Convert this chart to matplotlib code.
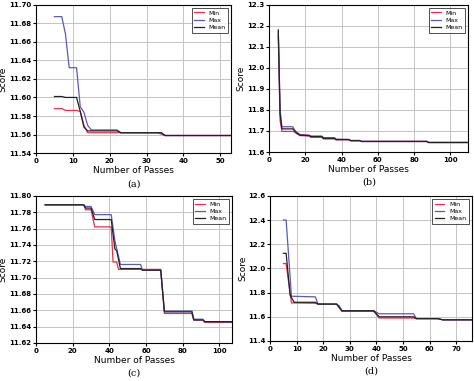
import numpy as np
import matplotlib.pyplot as plt

# Painel (a)
a_x_max = [5, 7, 8, 9, 11, 12, 13, 14, 15, 22, 23, 34, 35, 53]
a_max = [11.687, 11.687, 11.668, 11.632, 11.632, 11.590, 11.584, 11.570, 11.565, 11.565, 11.562, 11.562, 11.559, 11.559]
a_x_min = [5, 7, 8, 11, 12, 13, 14, 22, 23, 33, 35, 53]
a_min = [11.588, 11.588, 11.586, 11.586, 11.585, 11.570, 11.562, 11.562, 11.562, 11.562, 11.559, 11.559]
a_x_mean = [5, 7, 8, 11, 12, 13, 14, 22, 23, 33, 34, 35, 53]
a_mean = [11.601, 11.601, 11.600, 11.600, 11.585, 11.568, 11.564, 11.564, 11.562, 11.562, 11.562, 11.559, 11.559]

# Painel (b)
b_x = [5, 6, 7, 13, 14, 15, 17, 22, 23, 29, 30, 36, 37, 44, 45, 50, 51, 87, 88, 110]
b_max = [12.17, 11.80, 11.720, 11.720, 11.705, 11.695, 11.683, 11.680, 11.676, 11.676, 11.668, 11.668, 11.661, 11.660, 11.655, 11.655, 11.651, 11.651, 11.646, 11.646]
b_min = [12.15, 11.75, 11.698, 11.698, 11.695, 11.688, 11.678, 11.676, 11.670, 11.670, 11.662, 11.662, 11.658, 11.658, 11.653, 11.653, 11.650, 11.650, 11.645, 11.645]
b_mean = [12.18, 11.78, 11.710, 11.710, 11.700, 11.692, 11.680, 11.678, 11.673, 11.673, 11.665, 11.665, 11.659, 11.659, 11.654, 11.654, 11.650, 11.650, 11.645, 11.645]

# Painel (c)
c_x_max = [5, 26, 27, 30, 32, 41, 43, 44, 46, 57, 58, 68, 70, 85, 86, 91, 92, 100, 107]
c_max = [11.789, 11.789, 11.787, 11.787, 11.777, 11.777, 11.745, 11.735, 11.716, 11.716, 11.709, 11.709, 11.659, 11.659, 11.649, 11.649, 11.646, 11.646, 11.645]
c_x_min = [5, 26, 27, 30, 32, 41, 42, 44, 45, 68, 70, 85, 86, 91, 92, 107]
c_min = [11.789, 11.789, 11.783, 11.783, 11.762, 11.762, 11.719, 11.719, 11.710, 11.710, 11.656, 11.656, 11.648, 11.648, 11.645, 11.645]
c_x_mean = [5, 26, 27, 30, 32, 41, 43, 44, 46, 57, 58, 68, 70, 85, 86, 91, 92, 107]
c_mean = [11.789, 11.789, 11.785, 11.785, 11.771, 11.771, 11.735, 11.733, 11.711, 11.711, 11.709, 11.709, 11.658, 11.658, 11.648, 11.648, 11.646, 11.646]

# Painel (d)
d_x_max = [5, 6, 8, 17, 18, 25, 26, 27, 39, 41, 54, 55, 63, 65, 76]
d_max = [12.40, 12.40, 11.77, 11.765, 11.705, 11.705, 11.69, 11.65, 11.65, 11.625, 11.625, 11.585, 11.585, 11.575, 11.575]
d_x_min = [5, 6, 8, 17, 18, 25, 27, 39, 41, 54, 55, 63, 65, 76]
d_min = [12.04, 12.04, 11.715, 11.712, 11.705, 11.705, 11.645, 11.645, 11.59, 11.59, 11.585, 11.585, 11.575, 11.575]
d_x_mean = [5, 6, 7.5, 9, 17, 18, 25, 27, 39, 41, 54, 55, 63, 65, 76]
d_mean = [12.125, 12.125, 11.78, 11.72, 11.72, 11.705, 11.705, 11.65, 11.65, 11.60, 11.60, 11.585, 11.585, 11.575, 11.575]

cor_min = '#e8304c'
cor_max = '#5a5ab8'
cor_mean = '#222222'

fig = plt.figure(figsize=(4.74, 3.81), dpi=100)

paineis = [
    # (posição, dados, limites x, limites y, ticks y, formato, legenda, posição do Score)
    ([0.076, 0.598, 0.412, 0.39], (a_x_min, a_min, a_x_max, a_max, a_x_mean, a_mean), (0, 53), (11.54, 11.70), np.arange(11.54, 11.701, 0.02), '%.2f', '(a)', -0.145),
    ([0.568, 0.601, 0.420, 0.387], (b_x, b_min, b_x, b_max, b_x, b_mean), (0, 110), (11.6, 12.3), np.arange(11.6, 12.31, 0.1), '%.1f', '(b)', -0.12),
    ([0.076, 0.100, 0.414, 0.386], (c_x_min, c_min, c_x_max, c_max, c_x_mean, c_mean), (0, 107), (11.62, 11.80), np.arange(11.62, 11.801, 0.02), '%.2f', '(c)', -0.145),
    ([0.570, 0.105, 0.426, 0.381], (d_x_min, d_min, d_x_max, d_max, d_x_mean, d_mean), (0, 76), (11.4, 12.6), np.arange(11.4, 12.61, 0.2), '%.1f', '(d)', -0.115),
]

for pos, dados, xlim, ylim, yticks, fmt, rotulo, xscore in paineis:
    ax = fig.add_axes(pos)
    xmin, ymin, xmax, ymax, xmean, ymean = dados
    ax.plot(xmin, ymin, color=cor_min, lw=0.9, label='Min')
    ax.plot(xmax, ymax, color=cor_max, lw=0.9, label='Max')
    ax.plot(xmean, ymean, color=cor_mean, lw=0.9, label='Mean')
    ax.set_xlim(xlim)
    ax.set_ylim(ylim)
    ax.set_yticks(yticks)
    ax.yaxis.set_major_formatter(plt.FormatStrFormatter(fmt))
    ax.grid(True, color='#c4c4c4', lw=0.7)
    ax.tick_params(labelsize=5, length=2, pad=1.5)
    for t in ax.get_xticklabels() + ax.get_yticklabels():
        t.set_fontweight('bold')
    ax.set_xlabel('Number of Passes', fontsize=6.5, labelpad=1.5)
    ax.set_ylabel('Score', fontsize=6.5)
    ax.yaxis.set_label_coords(xscore, 0.5)
    leg = ax.legend(loc='upper right', fontsize=4.5, frameon=True, fancybox=False,
                    edgecolor='black', handlelength=1.5, borderpad=0.4, labelspacing=0.3)
    leg.get_frame().set_linewidth(0.6)
    ax.text(0.5, -0.175, rotulo, transform=ax.transAxes, ha='center', va='top',
            fontsize=7, family='DejaVu Serif')

plt.savefig('out.png', dpi=100)
